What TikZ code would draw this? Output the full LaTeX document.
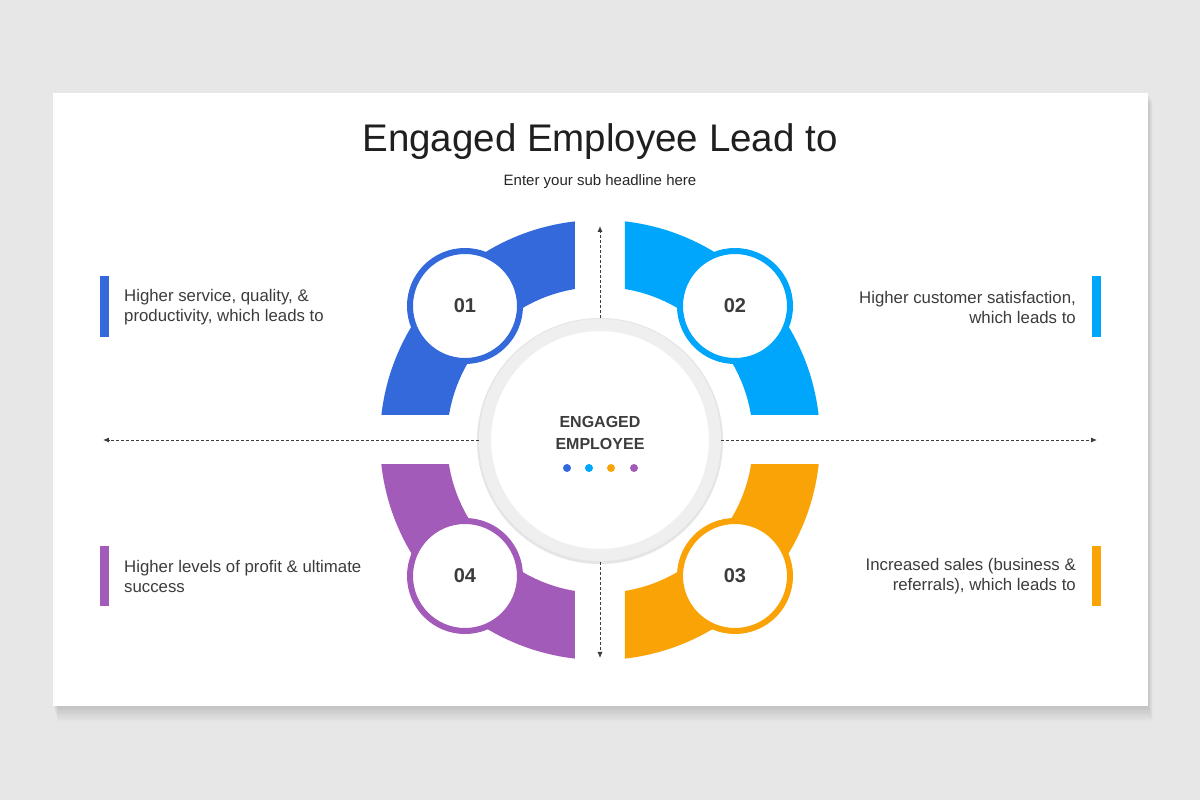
\documentclass[tikz,border=0pt]{standalone}
\usepackage{fontspec}
\setmainfont{Liberation Sans}
\usetikzlibrary{arrows.meta}
\definecolor{pagegray}{HTML}{E8E7E8}
\definecolor{cblue}{HTML}{3369DB}
\definecolor{clight}{HTML}{00A6FB}
\definecolor{corange}{HTML}{FAA307}
\definecolor{cpurple}{HTML}{A35BB9}
\definecolor{txt}{HTML}{3C3C3C}
\definecolor{ringgray}{HTML}{EFEFEF}
\tikzset{
  numring/.style={circle,fill=white,line width=6pt,minimum size=110pt,inner sep=0pt,
    font=\fontsize{20}{24}\selectfont\bfseries,text=txt},
  sidetext/.style={font=\fontsize{16.8}{20}\selectfont,text=txt,inner sep=0pt},
  guide/.style={line width=0.9pt,draw=txt,dash pattern=on 3pt off 2pt,-{Latex[length=6pt,width=5pt]}},
  hubdot/.style={circle,inner sep=0pt,minimum size=8pt}
}
\begin{document}
\begin{tikzpicture}[x=1pt,y=1pt]
\useasboundingbox (-600,-360) rectangle (600,440);
\fill[pagegray] (-600,-360) rectangle (600,440);
\foreach \i in {1,...,12}
  \fill[black,opacity=0.012] (-547+\i*0.4,-266-\i*1.3) rectangle (548+\i*0.4,347-\i*0.8);
\fill[white] (-547,-266) rectangle (548,347);

\node[font=\fontsize{38.5}{42}\selectfont,text=black!88] (title) at (0,298) {Engaged Employee Lead to};
\node[font=\fontsize{15}{17}\selectfont,text=black!85] (subtitle) at (0,258) {Enter your sub headline here};

\foreach \sx/\sy/\col in {-1/1/cblue,1/1/clight,1/-1/corange,-1/-1/cpurple}{
  \begin{scope}
    \clip (\sx*25,\sy*25) rectangle (\sx*230,\sy*230);
    \fill[\col,even odd rule] (0,0) circle (220pt) (0,0) circle (153pt);
  \end{scope}
}

\fill[black!10] (0,-1) circle (123pt);
\node[circle,fill=white,draw=ringgray,line width=12pt,minimum size=230pt] (hub) at (0,0) {};
\node[font=\fontsize{16}{22}\selectfont\bfseries,text=txt,align=center] (hubtxt) at (0,7) {ENGAGED\\EMPLOYEE};
\node[hubdot,fill=cblue] (d1) at (-33,-28) {};
\node[hubdot,fill=clight] (d2) at (-11,-28) {};
\node[hubdot,fill=corange] (d3) at (11,-28) {};
\node[hubdot,fill=cpurple] (d4) at (34,-28) {};

\node[numring,draw=cblue] (n1) at (-135,134) {01};
\node[numring,draw=clight] (n2) at (135,134) {02};
\node[numring,draw=corange] (n3) at (135,-136) {03};
\node[numring,draw=cpurple] (n4) at (-135,-136) {04};

\coordinate (west) at (-497,0);
\coordinate (east) at (497,0);
\coordinate (north) at (0,214);
\coordinate (south) at (0,-218);
\coordinate (hubn) at (0,122);
\coordinate (hubs) at (0,-122);
\draw[guide] (hub.west) -- (west);
\draw[guide] (hub.east) -- (east);
\draw[guide] (hubn) -- (north);
\draw[guide] (hubs) -- (south);

\fill[cblue] (-500,103) rectangle (-491,164);
\fill[cpurple] (-500,-166) rectangle (-491,-106);
\fill[clight] (492,103) rectangle (501,164);
\fill[corange] (492,-166) rectangle (501,-106);

\node[sidetext,anchor=west,align=left] (t1) at (-476,133) {Higher service, quality, \&\\productivity, which leads to};
\node[sidetext,anchor=east,align=right] (t2) at (476,133) {Higher customer satisfaction,\\which leads to};
\node[sidetext,anchor=east,align=right] (t3) at (476,-136) {Increased sales (business \&\\referrals), which leads to};
\node[sidetext,anchor=west,align=left] (t4) at (-476,-136) {Higher levels of profit \& ultimate\\success};
\end{tikzpicture}
\end{document}
